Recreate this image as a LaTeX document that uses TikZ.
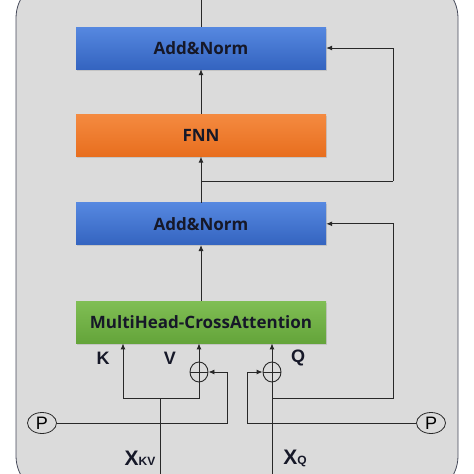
\documentclass[tikz,border=0pt]{standalone}
\usepackage{fontspec}
\setmainfont{Open Sans}
\newfontfamily\labelfont{Liberation Sans}
\usepackage{tikz}
\usetikzlibrary{arrows.meta,shapes,positioning,shadows}
\usepackage{xcolor}
\definecolor{panelgray}{RGB}{219,219,219}
\definecolor{paneledge}{RGB}{70,74,90}
\definecolor{normtop}{RGB}{86,136,224}
\definecolor{normbot}{RGB}{52,100,192}
\definecolor{fnntop}{RGB}{244,138,64}
\definecolor{fnnbot}{RGB}{232,110,30}
\definecolor{attntop}{RGB}{128,190,84}
\definecolor{attnbot}{RGB}{100,164,58}
\definecolor{inkdark}{RGB}{22,24,40}
\definecolor{wire}{RGB}{40,40,40}
\tikzstyle{arrow} = [line width=0.9pt,->,>={Latex[length=6pt,width=5pt]},color=wire]
\tikzstyle{wireline} = [line width=0.9pt,color=wire]
\tikzstyle{layer} = [rectangle, minimum width=250pt, minimum height=42pt, text centered, text=inkdark, font=\bfseries\fontsize{17}{20}\selectfont, drop shadow={shadow xshift=1pt, shadow yshift=-1.5pt, opacity=0.25}]
\tikzstyle{addnorm} = [layer, top color=normtop, bottom color=normbot]
\tikzstyle{fnnbox} = [layer, top color=fnntop, bottom color=fnnbot]
\tikzstyle{attnbox} = [layer, top color=attntop, bottom color=attnbot]
\tikzstyle{oplus} = [ellipse, draw=wire, line width=0.9pt, minimum width=18pt, minimum height=20pt, inner sep=0pt, path picture={\draw[wireline] (path picture bounding box.north) -- (path picture bounding box.south) (path picture bounding box.west) -- (path picture bounding box.east);}]
\tikzstyle{posenc} = [ellipse, draw=wire, line width=0.8pt, minimum width=29pt, minimum height=21pt, inner sep=0pt, font=\labelfont\fontsize{18}{18}\selectfont]
\tikzstyle{portlabel} = [font=\labelfont\bfseries\fontsize{18}{18}\selectfont, text=inkdark]

\begin{document}
\begin{tikzpicture}[x=1pt,y=-1pt]
\useasboundingbox (0,0) rectangle (474,474);
\clip (0,0) rectangle (474,474);
\draw[fill=panelgray, draw=paneledge, line width=0.8pt, rounded corners=40pt] (16,-22) rectangle (458,496);

% Layer stack
\node (addtop) [addnorm] at (201,48) {Add\&Norm};
\node (fnn) [fnnbox, below=45pt of addtop] {FNN};
\node (addmid) [addnorm, below=46pt of fnn] {Add\&Norm};
\node (mhca) [attnbox, below=56pt of addmid] {MultiHead-CrossAttention};

% Inputs and positional encodings
\node (plusv) [oplus] at (199,372) {};
\node (plusq) [oplus] at (272,372) {};
\node (pleft) [posenc] at (42,423) {P};
\node (pright) [posenc] at (431,423) {P};

\coordinate (out) at (201,0);
\coordinate (xkvin) at (160,474);
\coordinate (kvsplit) at (160,398);
\coordinate (kport) at (123,398);
\coordinate (xqin) at (272,474);
\coordinate (qsplit) at (272,398);
\coordinate (resmid) at (393,398);
\coordinate (ffsplit) at (201,181);
\coordinate (restop) at (393,181);
\coordinate (pvturn) at (227,423);
\coordinate (pqturn) at (247,423);

% Labels
\node (klab) [portlabel] at (103,358) {K};
\node (vlab) [portlabel] at (170,358) {V};
\node (qlab) [portlabel] at (298,358) {Q};
\node (xkvlab) [portlabel, font=\labelfont\bfseries\fontsize{21}{21}\selectfont] at (140,458) {X{\fontsize{12}{12}\selectfont KV}};
\node (xqlab) [portlabel, font=\labelfont\bfseries\fontsize{21}{21}\selectfont] at (295,458) {X{\fontsize{12}{12}\selectfont Q}};

% Key / value branch
\draw[wireline] (xkvin) -- (kvsplit);
\draw[arrow] (kvsplit) -- (kport) -- (kport |- mhca.south);
\draw[wireline] (kvsplit) -| (plusv.south);
\draw[arrow] (plusv.north) -- (plusv.north |- mhca.south);
\draw[arrow] (pleft.east) -- (pvturn) |- (plusv.east);

% Query branch
\draw[wireline] (xqin) -- (plusq.south);
\draw[arrow] (plusq.north) -- (plusq.north |- mhca.south);
\draw[arrow] (pright.west) -- (pqturn) |- (plusq.west);

% Residual paths
\draw[arrow] (qsplit) -- (resmid) |- (addmid.east);
\draw[wireline] (ffsplit) -- (restop);
\draw[arrow] (restop) |- (addtop.east);

% Main flow
\draw[arrow] (mhca.north) -- (addmid.south);
\draw[arrow] (addmid.north) -- (fnn.south);
\draw[arrow] (fnn.north) -- (addtop.south);
\draw[wireline] (addtop.north) -- (out);
\end{tikzpicture}
\end{document}
